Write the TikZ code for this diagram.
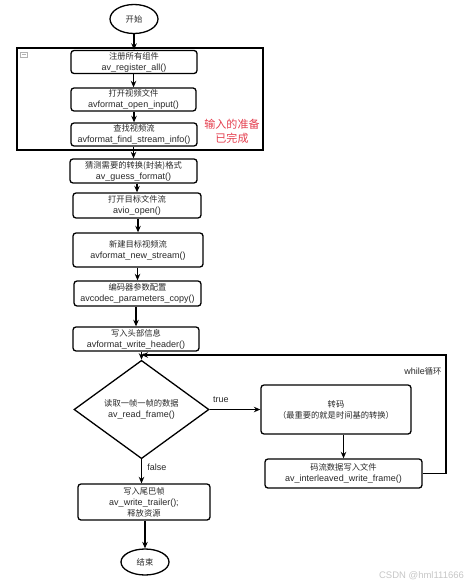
\documentclass[tikz,border=0pt]{standalone}
\usepackage{fontspec}
\setmainfont{Liberation Sans}
\newfontfamily\cjk[Scale=0.92]{Noto Sans CJK SC}
\usetikzlibrary{arrows.meta,shapes.geometric}
\definecolor{notered}{RGB}{228,62,78}
\definecolor{inkgray}{RGB}{40,40,40}
\tikzstyle{element}=[draw, line width=1.3pt, rounded corners=3pt, align=center,
  minimum width=126pt, minimum height=23pt, inner sep=1pt, text=inkgray,
  font=\fontsize{9}{11}\selectfont]
\tikzstyle{terminal}=[draw, ellipse, line width=1.3pt, minimum width=48pt,
  minimum height=29pt, inner sep=0pt, text=inkgray, font=\fontsize{9}{11}\selectfont]
\tikzstyle{decision}=[element, diamond, rounded corners=0pt, minimum width=135pt,
  minimum height=85pt]
\tikzstyle{group}=[draw, line width=1.6pt]
\tikzstyle{texto}=[text=inkgray, font=\fontsize{9}{11}\selectfont]
\tikzstyle{line}=[draw, line width=1.3pt, -{Stealth[length=6.5pt,width=5.5pt]}]
\newcommand{\zh}[1]{{\cjk #1}}
\newcommand{\element}[4]{node (#1) [element,#2] {\zh{#3}\\#4}}

\begin{document}
\begin{tikzpicture}[x=1pt,y=-1pt]
  \useasboundingbox (0,0) rectangle (474,585);

  % Start
  \node (start) [terminal] at (134,19) {\zh{开始}};

  % Input preparation
  \path (134,62) \element{b1}{}{注册所有组件}{av\_register\_all()};
  \path (133.5,99.5) \element{b2}{minimum width=125pt}{打开视频文件}{avformat\_open\_input()};
  \path (134,134.5) \element{b3}{}{查找视频流}{avformat\_find\_stream\_info()};

  \draw[group] (17,48) rectangle (263,150);
  \draw[gray!60, line width=0.6pt] (20,52) rectangle (27,57);
  \draw[gray!60, line width=0.6pt] (21.5,54.5) -- (25.5,54.5);
  \node (note) [text=notered, align=center, font=\fontsize{12}{14}\selectfont]
    at (232,131) {\zh{输入的准备}\\\zh{已完成}};

  % Output preparation
  \path (133.5,171) \element{b4}{minimum width=127pt, minimum height=24pt}{猜测需要的转换(封装)格式}{av\_guess\_format()};
  \path (137,205.5) \element{b5}{minimum width=128pt, minimum height=25pt}{打开目标文件流}{avio\_open()};
  \path (138,250) \element{b6}{minimum width=130pt, minimum height=34pt}{新建目标视频流}{avformat\_new\_stream()};
  \path (137.5,293.5) \element{b7}{minimum width=127pt, minimum height=25pt}{编码器参数配置}{avcodec\_parameters\_copy()};
  \path (136,339) \element{b8}{minimum height=24pt}{写入头部信息}{avformat\_write\_header()};

  % Loop
  \node (read) [decision] at (141.5,409.5) {\zh{读取一帧一帧的数据}\\av\_read\_frame()};
  \node (trans) [element, minimum width=150pt, minimum height=49pt] at (336,409.5)
    {\zh{转码}\\\zh{（最重要的就是时间基的转换）}};
  \path (343.5,473.5) \element{write}{minimum width=157pt, minimum height=29pt}{码流数据写入文件}{av\_interleaved\_write\_frame()};

  % End
  \node (trailer) [element, minimum width=132pt, minimum height=36pt] at (144,502)
    {\zh{写入尾巴帧}\\av\_write\_trailer();\\\zh{释放资源}};
  \node (stop) [terminal, minimum height=26pt] at (145,562) {\zh{结束}};

  % Arrows
  \path [line] (start.south -| b1.north) -- (b1.north);
  \path [line] (b1.south -| b2.north) -- (b2.north);
  \path [line] (b2.south -| b3.north) -- (b3.north);
  \path [line] (b3.south -| b4.north) -- (b4.north);
  \path [line] (b4.south -| b5.north) -- (b5.north);
  \path [line] (b5.south -| b6.north) -- (b6.north);
  \path [line] (b6.south -| b7.north) -- (b7.north);
  \path [line] (b7.south -| b8.north) -- (b8.north);
  \path [line] (b8.south -| read.north) -- (read.north);
  \path [line] (read.east) -- node [texto, above=3pt, pos=0.22] {true} (trans.west);
  \path [line] (trans.south -| write.north) -- (write.north);
  \path [line] (read.south) -- node [texto, right=2pt, pos=0.35] {false} (read.south |- trailer.north);
  \path [line] (trailer.south -| stop.north) -- (stop.north);

  % while loop back
  \coordinate (loopr) at (446,355);
  \coordinate (loopl) at (read.north |- loopr);
  \path [line] (write.east) -| (loopr) -- (loopl);
  \node [texto, left=1pt] at (446,371) {while\zh{循环}};

  % watermark
  \node [text=gray!45, font=\fontsize{9.5}{11}\selectfont] at (421.5,576) {CSDN @hml111666};
\end{tikzpicture}
\end{document}
